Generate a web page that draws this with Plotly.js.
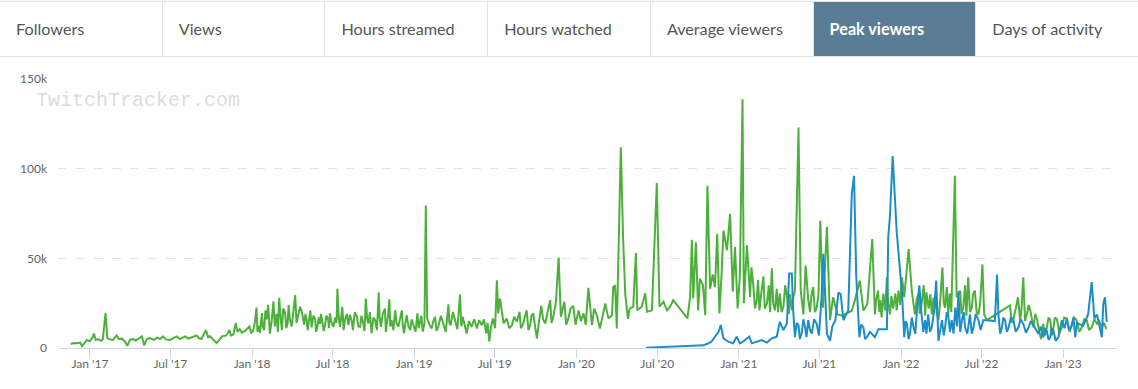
<!DOCTYPE html>
<html>
<head>
<meta charset="utf-8">
<script src="https://cdn.plot.ly/plotly-3.0.1.min.js"></script>
<style>
  html, body { margin: 0; padding: 0; background: #fff; width: 1138px; height: 389px; overflow: hidden; }
  #tabs { position: absolute; left: 0; top: 1px; width: 1138px; height: 56px; border-top: 1px solid #e3e3e3; border-bottom: 1px solid #e3e3e3; display: flex; box-sizing: border-box; }
  .tab { flex: 1 1 0; box-sizing: border-box; border-left: 1px solid #e3e3e3; font-family: Lato, "Open Sans", sans-serif; font-size: 16.2px; color: #555; padding-left: 16px; line-height: 54px; white-space: nowrap; }
  .tab:first-child { border-left: none; }
  .tab.active { background: #5b7c95; color: #fff; font-weight: bold; }
  #chart { position: absolute; left: 0; top: 58px; width: 1138px; height: 331px; }
</style>
</head>
<body>
<div id="tabs"></div>
<div id="chart"></div>
<script>
const tabLabels = ["Followers", "Views", "Hours streamed", "Hours watched", "Average viewers", "Peak viewers", "Days of activity"];
const activeTab = "Peak viewers";

// green series: [date, peak viewers]
const greenPoints = [
["2016-11-19",2200],["2016-11-26",2800],["2016-12-03",2600],["2016-12-10",3000],["2016-12-14",1000],["2016-12-21",3500],["2016-12-25",4500],
["2017-01-01",3800],["2017-01-06",5500],["2017-01-10",8000],["2017-01-14",4500],["2017-01-19",5000],["2017-01-26",4000],["2017-01-30",5000],
["2017-02-05",19500],["2017-02-09",5500],["2017-02-15",4800],["2017-02-22",4500],["2017-03-02",7000],["2017-03-07",5000],["2017-03-14",5200],
["2017-03-21",3500],["2017-03-26",1200],["2017-04-01",4500],["2017-04-08",5000],["2017-04-14",4200],["2017-04-21",5500],["2017-04-28",6500],
["2017-05-03",1500],["2017-05-09",5000],["2017-05-16",5500],["2017-05-25",4500],["2017-06-01",5800],["2017-06-08",5000],["2017-06-14",6500],
["2017-06-21",4800],["2017-06-30",4500],["2017-07-07",5500],["2017-07-15",6500],["2017-07-23",5000],["2017-08-03",6500],["2017-08-10",5200],
["2017-08-19",6000],["2017-08-29",7000],["2017-09-03",5500],["2017-09-09",5000],["2017-09-19",10000],["2017-09-24",6000],["2017-09-28",6500],
["2017-10-05",4500],["2017-10-13",2800],["2017-10-19",4500],["2017-10-25",6500],["2017-11-04",7000],["2017-11-11",10000],["2017-11-14",7000],
["2017-11-20",7500],["2017-11-25",14000],["2017-11-29",9000],["2017-12-04",10500],["2017-12-09",8500],["2017-12-16",9500],["2017-12-26",12000],
["2017-12-30",8500],
["2018-01-03",9500],["2018-01-07",14000],["2018-01-11",22500],["2018-01-13",9000],["2018-01-15",12500],["2018-01-19",8500],["2018-01-23",19500],
["2018-01-25",12000],["2018-01-28",10000],["2018-01-31",21000],["2018-02-03",16000],["2018-02-06",24000],["2018-02-10",8000],["2018-02-14",15000],
["2018-02-18",26000],["2018-02-21",12000],["2018-02-25",19000],["2018-02-28",9000],["2018-03-03",28000],["2018-03-06",17000],["2018-03-09",10000],
["2018-03-12",22000],["2018-03-16",20000],["2018-03-19",11000],["2018-03-22",14000],["2018-03-24",24000],["2018-03-27",16000],["2018-03-31",12000],
["2018-04-04",21000],["2018-04-08",29500],["2018-04-11",14000],["2018-04-15",19000],["2018-04-19",23000],["2018-04-23",20000],["2018-04-25",16000],
["2018-04-28",13000],["2018-05-01",19000],["2018-05-04",15000],["2018-05-06",10000],["2018-05-09",17000],["2018-05-12",21000],["2018-05-15",11500],
["2018-05-19",18000],["2018-05-23",16000],["2018-05-25",9000],["2018-05-28",12000],["2018-05-31",17000],["2018-06-03",13500],["2018-06-05",19000],
["2018-06-08",15000],["2018-06-11",9500],["2018-06-14",12500],["2018-06-17",18000],["2018-06-21",16000],["2018-06-23",11000],["2018-06-25",19300],
["2018-06-29",14000],["2018-07-03",11800],["2018-07-07",17000],["2018-07-10",14000],["2018-07-12",33000],["2018-07-15",17000],["2018-07-18",11800],
["2018-07-20",16000],["2018-07-23",23000],["2018-07-26",10000],["2018-07-29",15500],["2018-08-02",19000],["2018-08-06",12700],["2018-08-09",18500],
["2018-08-13",15500],["2018-08-16",10000],["2018-08-20",20000],["2018-08-25",17400],["2018-08-28",12000],["2018-09-01",11800],["2018-09-04",18000],
["2018-09-08",13700],["2018-09-11",9500],["2018-09-14",27600],["2018-09-17",16000],["2018-09-20",13700],["2018-09-23",20000],["2018-09-27",8100],
["2018-10-01",17000],["2018-10-05",15500],["2018-10-09",10000],["2018-10-13",31000],["2018-10-15",17000],["2018-10-18",11800],["2018-10-22",19000],
["2018-10-27",22000],["2018-10-29",9000],["2018-10-31",12700],["2018-11-03",18000],["2018-11-06",27200],["2018-11-08",12000],["2018-11-11",15500],
["2018-11-15",10000],["2018-11-19",21000],["2018-11-22",14000],["2018-11-26",11800],["2018-11-30",17000],["2018-12-04",21000],["2018-12-06",13000],
["2018-12-09",8100],["2018-12-12",14000],["2018-12-15",18300],["2018-12-19",12000],["2018-12-23",10000],["2018-12-26",16000],["2018-12-30",12700],
["2019-01-04",9000],["2019-01-08",19300],["2019-01-11",11000],["2019-01-14",14600],["2019-01-17",18000],["2019-01-20",9100],["2019-01-24",14000],
["2019-01-27",79500],["2019-01-30",16500],["2019-02-04",13000],["2019-02-09",10900],["2019-02-13",15000],["2019-02-17",17400],["2019-02-20",9500],
["2019-02-24",11800],["2019-03-02",18000],["2019-03-08",13700],["2019-03-13",9000],["2019-03-19",24400],["2019-03-21",14000],["2019-03-24",12700],
["2019-03-29",20000],["2019-04-03",15500],["2019-04-08",10500],["2019-04-14",29800],["2019-04-17",12000],["2019-04-20",17400],["2019-04-24",13000],
["2019-04-29",8100],["2019-05-04",15000],["2019-05-10",11800],["2019-05-16",16000],["2019-05-22",10900],["2019-05-27",15500],["2019-06-02",12700],
["2019-06-07",16000],["2019-06-12",8100],["2019-06-15",14000],["2019-06-19",3500],["2019-06-23",12000],["2019-06-27",16500],["2019-07-02",11000],
["2019-07-06",37800],["2019-07-09",19300],["2019-07-13",27600],["2019-07-21",13700],["2019-07-28",16500],["2019-08-03",11000],["2019-08-09",12700],
["2019-08-14",17500],["2019-08-20",14600],["2019-08-26",20200],["2019-08-29",11000],["2019-09-02",12700],["2019-09-06",17000],["2019-09-11",21000],
["2019-09-15",10000],["2019-09-19",12700],["2019-09-22",18000],["2019-09-26",19300],["2019-09-30",12000],["2019-10-04",5400],["2019-10-09",15000],
["2019-10-14",23500],["2019-10-18",16000],["2019-10-23",13700],["2019-10-28",20000],["2019-11-03",26700],["2019-11-06",14000],["2019-11-10",17400],
["2019-11-16",25800],["2019-11-22",50400],["2019-11-27",17400],["2019-12-01",22000],["2019-12-05",25800],["2019-12-09",13000],["2019-12-14",16500],
["2019-12-19",22000],["2019-12-25",23500],["2019-12-30",13000],
["2020-01-06",21000],["2020-01-11",15000],["2020-01-17",19300],["2020-01-22",13000],["2020-01-28",33500],["2020-02-05",12700],["2020-02-10",22000],
["2020-02-16",18300],["2020-02-23",10900],["2020-03-01",19000],["2020-03-06",24800],["2020-03-13",16500],["2020-03-21",18300],["2020-03-24",34000],
["2020-03-28",35000],["2020-04-01",10900],["2020-04-05",61800],["2020-04-10",112000],["2020-04-15",62000],["2020-04-20",30000],["2020-04-26",16300],
["2020-04-30",22000],["2020-05-08",23000],["2020-05-14",53000],["2020-05-17",21000],["2020-05-27",23000],["2020-06-04",30500],["2020-06-08",20200],
["2020-06-19",21000],["2020-06-30",92000],["2020-07-06",23000],["2020-07-15",25800],["2020-07-23",21000],["2020-07-30",23000],["2020-08-06",26700],
["2020-09-07",16500],["2020-09-13",28500],["2020-09-17",60400],["2020-09-20",27600],["2020-09-26",59000],["2020-10-01",21000],["2020-10-05",38700],
["2020-10-12",35000],["2020-10-17",18300],["2020-10-22",90500],["2020-10-28",33000],["2020-11-03",41000],["2020-11-08",34000],["2020-11-13",63700],
["2020-11-18",19300],["2020-11-23",42000],["2020-11-27",65500],["2020-12-05",54500],["2020-12-12",74800],["2020-12-18",31400],["2020-12-23",56300],
["2020-12-29",22000],
["2021-01-03",40000],["2021-01-09",138700],["2021-01-12",25000],["2021-01-19",57400],["2021-01-26",28500],["2021-01-29",45000],["2021-02-02",35900],
["2021-02-06",22000],["2021-02-10",26700],["2021-02-13",38000],["2021-02-16",21000],["2021-02-20",30000],["2021-02-25",40000],["2021-02-28",22000],
["2021-03-05",24800],["2021-03-09",35000],["2021-03-12",20000],["2021-03-16",44500],["2021-03-19",25000],["2021-03-23",21000],["2021-03-27",33000],
["2021-03-30",20000],["2021-04-03",30500],["2021-04-07",20000],["2021-04-11",23000],["2021-04-15",35000],["2021-04-19",28500],["2021-04-23",19000],
["2021-04-26",30000],["2021-04-30",21000],["2021-05-03",28000],["2021-05-07",32000],["2021-05-15",123000],["2021-05-20",32000],["2021-05-26",18700],
["2021-05-31",46000],["2021-06-06",26700],["2021-06-10",20000],["2021-06-13",29000],["2021-06-17",34000],["2021-06-21",20000],["2021-06-25",22500],
["2021-06-29",30000],["2021-07-03",71000],["2021-07-09",22500],["2021-07-18",67400],["2021-07-25",15500],["2021-08-01",28300],["2021-08-11",18700],
["2021-08-21",18000],["2021-09-12",20800],["2021-09-19",26700],["2021-09-30",37600],["2021-10-08",20800],["2021-10-17",24500],["2021-10-28",60800],
["2021-11-03",18700],["2021-11-06",27000],["2021-11-10",32000],["2021-11-13",20000],["2021-11-15",26700],["2021-11-18",17000],["2021-11-22",30300],
["2021-11-26",21000],["2021-11-30",39400],["2021-12-03",25000],["2021-12-07",18700],["2021-12-10",29000],["2021-12-14",22000],["2021-12-19",30300],
["2021-12-22",21000],["2021-12-26",32000],["2021-12-30",24000],
["2022-01-03",39400],["2022-01-08",28300],["2022-01-18",55200],["2022-01-25",32000],["2022-02-01",18700],["2022-02-05",27000],["2022-02-09",30300],
["2022-02-12",19000],["2022-02-16",24500],["2022-02-21",35000],["2022-02-24",18000],["2022-02-27",31000],["2022-03-04",22000],["2022-03-08",30000],
["2022-03-11",18700],["2022-03-15",28000],["2022-03-19",26700],["2022-03-22",20000],["2022-03-26",15500],["2022-03-30",26000],["2022-04-04",44800],
["2022-04-07",25000],["2022-04-10",22500],["2022-04-14",34000],["2022-04-17",19000],["2022-04-21",30300],["2022-04-24",20000],["2022-04-27",53300],
["2022-05-02",96000],["2022-05-06",28300],["2022-05-14",32000],["2022-05-17",19000],["2022-05-21",22500],["2022-05-25",35000],["2022-05-28",18000],
["2022-06-01",39400],["2022-06-05",20000],["2022-06-09",22500],["2022-06-12",30000],["2022-06-16",32000],["2022-06-20",20000],["2022-06-24",18700],
["2022-06-28",25000],["2022-07-03",46600],["2022-07-07",18700],["2022-07-13",15500],["2022-09-03",23700],["2022-09-07",14000],["2022-09-11",16500],
["2022-09-16",22000],["2022-09-21",28300],["2022-09-26",15500],["2022-09-29",22000],["2022-10-03",39400],["2022-10-07",15000],["2022-10-11",18700],
["2022-10-15",24000],["2022-10-19",20800],["2022-10-23",14000],["2022-10-26",11500],["2022-10-30",19000],["2022-11-03",16000],["2022-11-08",9000],
["2022-11-12",5000],["2022-11-17",13500],["2022-11-21",7000],["2022-11-25",11500],["2022-11-29",17000],["2022-12-03",15500],["2022-12-06",7000],
["2022-12-09",9500],["2022-12-13",17000],["2022-12-18",16000],["2022-12-23",8000],["2022-12-29",11500],
["2023-01-03",17000],["2023-01-09",16500],["2023-01-15",9000],["2023-01-20",12500],["2023-01-25",17000],["2023-01-31",15500],["2023-02-06",9000],
["2023-02-12",11500],["2023-02-17",16000],["2023-02-23",15500],["2023-02-28",10000],["2023-03-06",11500],["2023-03-12",16000],["2023-03-18",13500],
["2023-03-23",15000],["2023-03-29",11500],["2023-04-03",14000],["2023-04-08",10500]
];

// blue series: [date, peak viewers]
const bluePoints = [
["2020-06-06",200],["2020-07-19",500],["2020-08-29",800],["2020-09-24",1000],["2020-10-13",1500],["2020-10-23",2500],["2020-10-31",3500],
["2020-11-08",6300],["2020-11-16",9000],["2020-11-21",12800],["2020-11-27",5400],["2020-12-08",3500],["2020-12-19",2600],["2020-12-27",6300],
["2021-01-03",2600],["2021-01-10",3500],["2021-01-15",4400],["2021-01-24",6300],["2021-01-30",2600],["2021-02-10",3500],["2021-02-21",4400],
["2021-03-05",3000],["2021-03-16",5400],["2021-03-27",6300],["2021-04-03",14600],["2021-04-11",10000],["2021-04-19",13700],["2021-04-24",41500],
["2021-04-30",41500],["2021-05-03",21000],["2021-05-07",6000],["2021-05-11",14000],["2021-05-15",12700],["2021-05-18",5000],["2021-05-22",8100],
["2021-05-26",16000],["2021-05-30",11500],["2021-06-02",6000],["2021-06-06",15500],["2021-06-10",10000],["2021-06-14",8000],["2021-06-19",16000],
["2021-06-25",13500],["2021-06-30",7000],["2021-07-06",28300],["2021-07-10",52600],["2021-07-18",8000],["2021-07-25",4000],["2021-07-30",12000],
["2021-08-06",15500],["2021-08-13",31000],["2021-08-18",30000],["2021-08-24",15500],["2021-09-04",21000],["2021-09-12",86000],["2021-09-17",96000],
["2021-09-22",40000],["2021-09-29",6000],["2021-10-03",13000],["2021-10-08",11500],["2021-10-12",5000],["2021-10-16",6000],["2021-10-23",9000],
["2021-11-03",6000],["2021-11-11",10500],["2021-11-30",10500],["2021-12-03",61800],["2021-12-07",74000],["2021-12-13",107000],["2021-12-22",65000],
["2022-01-03",30300],["2022-01-08",6000],["2022-01-11",15000],["2022-01-14",13500],["2022-01-18",5000],["2022-01-21",8000],["2022-01-25",17000],
["2022-01-29",11500],["2022-02-02",8000],["2022-02-05",18700],["2022-02-11",35000],["2022-02-16",18700],["2022-02-20",9000],["2022-02-24",15500],
["2022-02-27",8000],["2022-03-03",18700],["2022-03-07",9000],["2022-03-11",11500],["2022-03-16",20000],["2022-03-21",37600],["2022-03-26",4000],
["2022-04-03",15500],["2022-04-07",7000],["2022-04-10",11500],["2022-04-14",20000],["2022-04-17",18700],["2022-04-21",9000],["2022-04-25",15500],
["2022-04-29",8000],["2022-05-03",22500],["2022-05-07",12000],["2022-05-10",31600],["2022-05-14",9000],["2022-05-18",15500],["2022-05-22",20000],
["2022-05-25",11500],["2022-05-30",8000],["2022-06-05",18700],["2022-06-09",8000],["2022-06-13",11500],["2022-06-18",19000],["2022-06-24",15500],
["2022-06-29",10000],["2022-07-05",15500],["2022-07-13",15500],["2022-07-31",15000],["2022-08-05",41000],["2022-08-08",18700],["2022-08-12",8000],
["2022-08-16",11500],["2022-08-19",17000],["2022-08-23",15500],["2022-08-27",9000],["2022-08-31",11500],["2022-09-05",17000],["2022-09-11",15500],
["2022-09-16",9000],["2022-09-22",11500],["2022-09-27",16000],["2022-10-03",13500],["2022-10-09",8500],["2022-10-15",11500],["2022-10-20",15000],
["2022-10-26",12500],["2022-11-06",8000],["2022-11-11",12000],["2022-11-17",6000],["2022-11-21",11000],["2022-11-25",9500],["2022-11-29",4500],
["2022-12-03",6000],["2022-12-06",11000],["2022-12-10",9500],["2022-12-15",4000],["2022-12-21",6000],["2022-12-25",11000],["2022-12-29",15500],
["2023-01-04",11000],["2023-01-09",16500],["2023-01-14",10000],["2023-01-20",12500],["2023-01-24",17000],["2023-01-28",6000],["2023-02-01",14000],
["2023-02-04",13500],["2023-02-15",12500],["2023-02-26",18700],["2023-03-06",36800],["2023-03-12",16500],["2023-03-18",18700],["2023-03-24",11500],
["2023-03-29",6000],["2023-04-01",24500],["2023-04-05",28300],["2023-04-09",14500]
];

const xTickVals = ["2017-01-01","2017-07-01","2018-01-01","2018-07-01","2019-01-01","2019-07-01","2020-01-01","2020-07-01","2021-01-01","2021-07-01","2022-01-01","2022-07-01","2023-01-01"];
const xTickText = ["Jan '17","Jul '17","Jan '18","Jul '18","Jan '19","Jul '19","Jan '20","Jul '20","Jan '21","Jul '21","Jan '22","Jul '22","Jan '23"];
const yTickVals = [0, 50000, 100000, 150000];
const yTickText = ["0", "50k", "100k", "150k"];
const watermark = "TwitchTracker.com";

// tabs
const tabsEl = document.getElementById('tabs');
tabLabels.forEach(t => {
  const d = document.createElement('div');
  d.className = 'tab' + (t === activeTab ? ' active' : '');
  d.textContent = t;
  tabsEl.appendChild(d);
});

const traces = [
  { x: greenPoints.map(p => p[0]), y: greenPoints.map(p => p[1]), type: 'scatter', mode: 'lines',
    line: { color: '#4eb03c', width: 2 }, hoverinfo: 'x+y' },
  { x: bluePoints.map(p => p[0]), y: bluePoints.map(p => p[1]), type: 'scatter', mode: 'lines',
    line: { color: '#1c8dc7', width: 2 }, hoverinfo: 'x+y' }
];

const layout = {
  width: 1138, height: 331,
  margin: { l: 58, r: 21, t: 21, b: 41 },
  paper_bgcolor: '#fff', plot_bgcolor: '#fff',
  showlegend: false,
  font: { family: 'Lato, "Open Sans", sans-serif', size: 12, color: '#666' },
  xaxis: {
    type: 'date', range: ['2016-10-21', '2023-05-02'],
    tickvals: xTickVals, ticktext: xTickText,
    showgrid: false, zeroline: false,
    showline: true, linecolor: '#ccd6eb', linewidth: 1,
    ticks: 'outside', ticklen: 9, tickcolor: '#ccd6eb', tickwidth: 1,
    ticklabelstandoff: -4,
    tickfont: { family: 'Lato, "Open Sans", sans-serif', size: 12, color: '#666' }
  },
  yaxis: {
    range: [0, 150000], tickvals: yTickVals, ticktext: yTickText,
    showgrid: true, gridcolor: '#e3e3e3', griddash: 'dash', gridwidth: 1,
    zeroline: false, showline: false, ticks: '',
    ticklabelstandoff: 10,
    tickfont: { family: 'Lato, "Open Sans", sans-serif', size: 12, color: '#666' }
  },
  annotations: [{
    text: watermark, xref: 'paper', yref: 'paper', x: -0.023, y: 0.919,
    xanchor: 'left', yanchor: 'middle', showarrow: false,
    font: { family: '"Liberation Mono", "DejaVu Sans Mono", monospace', size: 20, color: '#dcdcdc' }
  }]
};

Plotly.newPlot('chart', traces, layout, { displayModeBar: false, staticPlot: true });
</script>
</body>
</html>
